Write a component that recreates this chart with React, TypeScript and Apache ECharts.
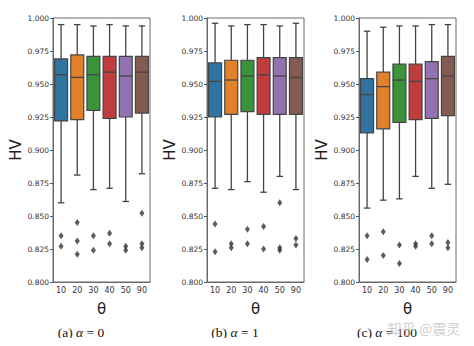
import React, { useEffect, useRef } from "react";
import * as echarts from "echarts";

const thetaLabels = ["10", "20", "30", "40", "50", "90"];
const boxColors = ["#3274a1", "#e1812c", "#3a923a", "#c03d3e", "#9372b2", "#845b53"];

// [lower whisker, Q1, median, Q3, upper whisker]
const statsA = [
  [0.86, 0.922, 0.957, 0.969, 0.995],
  [0.881, 0.923, 0.955, 0.972, 0.995],
  [0.87, 0.93, 0.957, 0.971, 0.994],
  [0.871, 0.924, 0.959, 0.971, 0.995],
  [0.861, 0.925, 0.956, 0.971, 0.994],
  [0.882, 0.928, 0.959, 0.971, 0.994],
];
const outliersA = [
  [0.835, 0.827],
  [0.845, 0.831, 0.821],
  [0.835, 0.824],
  [0.837, 0.829],
  [0.827, 0.824],
  [0.852, 0.829, 0.826],
];

const statsB = [
  [0.871, 0.925, 0.952, 0.966, 0.996],
  [0.87, 0.927, 0.953, 0.968, 0.994],
  [0.876, 0.929, 0.956, 0.968, 0.995],
  [0.868, 0.927, 0.957, 0.97, 0.995],
  [0.88, 0.927, 0.956, 0.97, 0.994],
  [0.87, 0.927, 0.955, 0.97, 0.996],
];
const outliersB = [
  [0.844, 0.823],
  [0.829, 0.826],
  [0.84, 0.829],
  [0.842, 0.825],
  [0.86, 0.826, 0.824],
  [0.833, 0.828],
];

const statsC = [
  [0.856, 0.913, 0.942, 0.954, 0.99],
  [0.862, 0.916, 0.948, 0.959, 0.993],
  [0.863, 0.921, 0.953, 0.965, 0.994],
  [0.88, 0.923, 0.952, 0.965, 0.994],
  [0.871, 0.924, 0.954, 0.967, 0.995],
  [0.874, 0.926, 0.956, 0.971, 0.995],
];
const outliersC = [
  [0.835, 0.817],
  [0.838, 0.82],
  [0.828, 0.814],
  [0.829, 0.827],
  [0.835, 0.829],
  [0.83, 0.826],
];

const yTickMin = 0.8;
const yTickMax = 1.0;
const yTickStep = 0.025;

const captions = [
  { label: "(a)", value: "0" },
  { label: "(b)", value: "1" },
  { label: "(c)", value: "100" },
];

const panels = [
  { stats: statsA, outliers: outliersA, left: 53, caption: 0 },
  { stats: statsB, outliers: outliersB, left: 207, caption: 1 },
  { stats: statsC, outliers: outliersC, left: 359, caption: 2 },
];

const LINE = "#444";

export default function App() {
  const ref = useRef<HTMLDivElement>(null);
  useEffect(() => {
    if (!ref.current) return;
    const chart = echarts.init(ref.current, null, { renderer: "svg" });
    const grids: any[] = [];
    const xAxes: any[] = [];
    const yAxes: any[] = [];
    const series: any[] = [];
    const graphics: any[] = [];

    panels.forEach((p, i) => {
      grids.push({
        left: p.left,
        top: 18,
        width: 97,
        height: 264,
        show: true,
        borderColor: "#6a6a6a",
        borderWidth: 1,
        backgroundColor: "transparent",
      });
      xAxes.push({
        type: "category",
        gridIndex: i,
        data: thetaLabels,
        boundaryGap: true,
        name: "θ",
        nameLocation: "middle",
        nameGap: 19,
        nameTextStyle: { fontSize: 15, color: "#222", fontFamily: "DejaVu Sans" },
        axisLine: { lineStyle: { color: "#6a6a6a" } },
        axisTick: { alignWithLabel: true, length: 3, lineStyle: { color: "#555" } },
        axisLabel: { fontSize: 8, color: "#333", margin: 4, fontFamily: "DejaVu Sans" },
        splitLine: { show: false },
      });
      yAxes.push({
        type: "value",
        gridIndex: i,
        min: yTickMin,
        max: yTickMax,
        interval: yTickStep,
        name: "HV",
        nameLocation: "middle",
        nameGap: 27,
        nameTextStyle: { fontSize: 15, color: "#222", fontFamily: "DejaVu Sans" },
        axisLine: { show: true, lineStyle: { color: "#6a6a6a" } },
        axisTick: { show: true, length: 3, lineStyle: { color: "#555" } },
        axisLabel: {
          fontSize: 7.5,
          color: "#333",
          margin: 4,
          fontFamily: "DejaVu Sans",
          formatter: (v: number) => v.toFixed(3),
        },
        splitLine: { show: false },
      });
      const boxData = p.stats.map((s, k) => [k, ...s]);
      series.push({
        type: "custom",
        xAxisIndex: i,
        yAxisIndex: i,
        data: boxData,
        renderItem: (params: any, api: any) => {
          const k = api.value(0);
          const lo = api.coord([k, api.value(1)]);
          const q1 = api.coord([k, api.value(2)]);
          const med = api.coord([k, api.value(3)]);
          const q3 = api.coord([k, api.value(4)]);
          const hi = api.coord([k, api.value(5)]);
          const band = api.size([1, 0])[0];
          const bw = band * 0.8;
          const cx = lo[0];
          const cap = bw / 2;
          const ls = { stroke: LINE, lineWidth: 1.3 };
          return {
            type: "group",
            children: [
              { type: "line", shape: { x1: cx, y1: hi[1], x2: cx, y2: q3[1] }, style: ls },
              { type: "line", shape: { x1: cx, y1: q1[1], x2: cx, y2: lo[1] }, style: ls },
              { type: "line", shape: { x1: cx - cap / 2, y1: hi[1], x2: cx + cap / 2, y2: hi[1] }, style: ls },
              { type: "line", shape: { x1: cx - cap / 2, y1: lo[1], x2: cx + cap / 2, y2: lo[1] }, style: ls },
              {
                type: "rect",
                shape: { x: cx - bw / 2, y: q3[1], width: bw, height: q1[1] - q3[1] },
                style: { fill: boxColors[k], stroke: LINE, lineWidth: 1.2 },
              },
              { type: "line", shape: { x1: cx - bw / 2, y1: med[1], x2: cx + bw / 2, y2: med[1] }, style: ls },
            ],
          };
        },
        z: 2,
      });
      const pts: any[] = [];
      p.outliers.forEach((arr, k) => arr.forEach((v) => pts.push([k, v])));
      series.push({
        type: "scatter",
        xAxisIndex: i,
        yAxisIndex: i,
        data: pts.map((q) => [thetaLabels[q[0]], q[1]]),
        symbol: "diamond",
        symbolSize: [5, 7],
        itemStyle: { color: "#333" },
        z: 3,
      });
      const c = captions[p.caption];
      graphics.push({
        type: "text",
        x: p.left + 28,
        y: 332,
        style: {
          text: `{n|${c.label}\u00a0}{a|α}{n|\u00a0=\u00a0${c.value}}`,
          align: "center",
          verticalAlign: "middle",
          rich: {
            n: { fontFamily: "Liberation Serif", fontSize: 13.5, fill: "#111" },
            a: { fontFamily: "Liberation Serif", fontStyle: "italic", fontSize: 13.5, fill: "#111" },
          },
        },
      });
    });

    graphics.push({
      type: "text",
      x: 424,
      y: 328,
      style: {
        text: "知乎 @震灵",
        align: "center",
        verticalAlign: "middle",
        fontFamily: "Noto Sans CJK SC",
        fontSize: 14,
        fill: "rgba(190,190,190,0.75)",
      },
      z: 10,
    });

    chart.setOption({
      animation: false,
      backgroundColor: "#fff",
      grid: grids,
      xAxis: xAxes,
      yAxis: yAxes,
      series,
      graphic: graphics,
    });
    return () => chart.dispose();
  }, []);
  return <div ref={ref} style={{ width: 474, height: 346, margin: -8 }} />;
}
